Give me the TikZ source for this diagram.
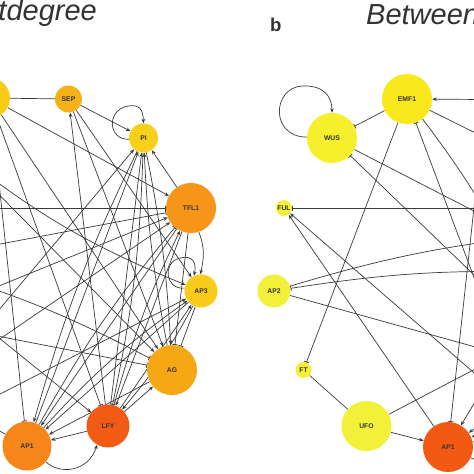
\documentclass[tikz,border=0pt]{standalone}
\usepackage{fontspec}
\setmainfont{Liberation Sans}
\usetikzlibrary{arrows.meta}
\definecolor{ecol}{HTML}{3A3A3A}
\definecolor{tcol}{HTML}{333333}
\definecolor{cLone}{HTML}{F8CC16}
\definecolor{cSEP}{HTML}{F4B118}
\definecolor{cPI}{HTML}{F9D019}
\definecolor{cTFL}{HTML}{F7951A}
\definecolor{cAPthree}{HTML}{F9CB1B}
\definecolor{cAG}{HTML}{F6A714}
\definecolor{cLFY}{HTML}{F25B14}
\definecolor{cAPa}{HTML}{F7861A}
\definecolor{cWUS}{HTML}{F6F02C}
\definecolor{cEMF}{HTML}{F8E81C}
\definecolor{cYel}{HTML}{F3F03A}
\definecolor{cAPb}{HTML}{F25A14}
\pgfdeclarelayer{bg}
\pgfsetlayers{bg,main}
\tikzset{
  nd/.style={circle, inner sep=0pt, minimum size=#1, text=tcol,
    font=\fontsize{6.8}{7}\selectfont\bfseries},
  e/.style={draw=ecol, line width=0.7pt},
  ar/.style={e, -{Stealth[length=4.5pt,width=3.6pt]}},
  tb/.style={e, -{Bar[width=5pt,line width=0.8pt]}},
  ttl/.style={text=tcol, font=\fontsize{29}{30}\selectfont\itshape, inner sep=0pt},
}
\begin{document}
\begin{tikzpicture}[x=1pt,y=-1pt]
\useasboundingbox (0,0) rectangle (474,474);

% ---------- titles ----------
\node[ttl, anchor=base east] (t1) at (97,20) {Outdegree};
\node[ttl, anchor=base west] (t2) at (366,24) {Betweenness};
\node[text=tcol, font=\fontsize{18.6}{19}\selectfont\bfseries, anchor=base west, inner sep=0pt] (lb) at (270,31.7) {b};

% ---------- left panel nodes ----------
\node[nd=40pt, fill=cLone] (L1) at (-10,98) {};
\node[nd=27pt, fill=cSEP] (SEP) at (68.5,99) {SEP};
\node[nd=29pt, fill=cPI] (PI) at (143.5,138) {PI};
\node[nd=50pt, fill=cTFL] (TFL1) at (191,208) {TFL1};
\node[nd=33pt, fill=cAPthree] (AP3) at (201,291) {AP3};
\node[nd=50pt, fill=cAG] (AG) at (172,370) {AG};
\node[nd=43pt, fill=cLFY] (LFY) at (108,426) {LFY};
\node[nd=49pt, fill=cAPa] (AP1L) at (27,446) {AP1};

% ---------- right panel nodes ----------
\node[nd=50pt, fill=cWUS] (WUS) at (332,138) {WUS};
\node[nd=50pt, fill=cEMF] (EMF1) at (407,99) {EMF1};
\node[nd=16pt, fill=cYel] (FUL) at (284,208) {FUL};
\node[nd=33pt, fill=cYel] (AP2) at (274,291) {AP2};
\node[nd=16pt, fill=cYel] (FT) at (303.5,370) {FT};
\node[nd=50pt, fill=cYel] (UFO) at (366.5,426) {UFO};
\node[nd=50pt, fill=cAPb] (AP1R) at (448,447) {AP1};

% off-screen ends
\coordinate (oA) at (-45,150);
\coordinate (oB) at (-80,208);
\coordinate (oC) at (-95,262);
\coordinate (oD) at (-85,320);
\coordinate (oE) at (-60,380);
\coordinate (oF) at (-35,412);
\coordinate (rC) at (540,330);
\coordinate (rD) at (520,400);
\coordinate (rE) at (560,100);
\coordinate (rF) at (540,165);
\coordinate (rG) at (500,300);
\coordinate (rH) at (540,245);
\coordinate (rI) at (540,208);
\coordinate (rJ) at (540,430);
\coordinate (rK) at (540,235);
\coordinate (rL) at (540,272);
\coordinate (rM) at (540,365);
\coordinate (rN) at (540,335);
\coordinate (rO) at (490,60);
\coordinate (rP) at (560,370);
\coordinate (rQ) at (560,400);
\coordinate (rR) at (560,425);
\coordinate (rS) at (530,310);
\coordinate (rT) at (560,500);

\begin{pgfonlayer}{bg}
\fill[white] (0,0) rectangle (474,474);
\clip (0,0) rectangle (474,474);
% ----- left panel edges -----
\draw[e]  (L1) -- (SEP);
\draw[ar] (L1) -- (TFL1);
\draw[tb] (L1) -- (AP1L);
\draw[tb] (L1) -- (LFY);
\draw[ar] (L1) -- (AG);
\draw[ar] (SEP) -- (PI);
\draw[ar] (SEP) -- (AG);
\draw[ar] (SEP) -- (AP3);
\draw[ar] (LFY) -- (SEP);
\draw[ar] (AP1L) -- (PI);
\draw[ar] (LFY) -- (PI);
\draw[ar] (AG) to[bend left=4] (PI);
\draw[ar] (PI) to[bend left=4] (AG);
\draw[ar] (TFL1) -- (PI);
\draw[ar] (PI.185) .. controls (108,140) and (106,110) .. (128,106)
          .. controls (140,104) and (143,110) .. (PI.north);
\draw[ar] (TFL1.-72) .. controls (205,248) and (204,258) .. (AP3.92);
\draw[ar] (AP3.170) .. controls (165,290) and (162,262) .. (180,258)
          .. controls (192,255) and (197,262) .. (AP3.115);
\draw[ar] (TFL1) -- (AP1L);
\draw[tb] (AP1L) to[bend left=5] (TFL1);
\draw[ar] (TFL1) -- (LFY);
\draw[ar] (LFY) to[bend left=5] (TFL1);
\draw[ar] (LFY) -- (AG);
\draw[ar] (LFY) -- (AP1L);
\draw[ar] (AP1L.-40) .. controls (60,475) and (88,472) .. (LFY.-120);
\draw[ar] (AG) -- (AP1L);
\draw[ar] (AP3) -- (AP1L);
\draw[ar] (AP1L) to[bend left=6] (AP3);
\draw[ar] (LFY) -- (AP3);
\draw[ar] (AP3) to[bend left=6] (LFY);
\draw[tb] (AP3) -- (AG);
\draw[tb] (TFL1) -- (AG);
\draw[ar] (PI) to[bend right=5] (AP1L);
\draw[tb] (PI) to[bend left=5] (LFY);
\draw[tb] (oB) -- (TFL1);
\draw[tb] (oC) -- (TFL1);
\draw[ar] (oD) -- (TFL1);
\draw[ar] (oA) to[bend right=8] (AP3);
\draw[ar] (oA) -- (AG);
\draw[ar] (oC) -- (LFY);
\draw[tb] (oD) -- (AG);
\draw[tb] (oC) to[bend left=6] (AG);
\draw[ar] (oE) -- (PI);
\draw[ar] (oE) -- (TFL1);
\draw[ar] (oF) -- (AP3);
\draw[e]  (oF) -- (AP1L);
% ----- right panel edges -----
\draw[ar] (WUS.178) .. controls (270,137) and (272,88) .. (302,86)
          .. controls (322,85) and (332,95) .. (WUS.north);
\draw[tb] (EMF1) -- (WUS);
\draw[tb] (EMF1) -- (FT);
\draw[tb] (rD) -- (EMF1);
\draw[e]  (EMF1) to[bend left=8] (rC);
\draw[ar] (rE) -- (EMF1);
\draw[e]  (EMF1) -- (rF);
\draw[tb] (rG) -- (WUS);
\draw[e]  (WUS) -- (rH);
\draw[tb] (rI) -- (FUL);
\draw[ar] (AP1R) -- (FUL);
\draw[ar] (rJ) -- (FUL);
\draw[e]  (AP2) to[bend left=5] (rK);
\draw[tb] (rL) to[bend right=5] (AP2);
\draw[e]  (AP2) -- (rM);
\draw[e]  (FT) -- (UFO);
\draw[ar] (UFO) -- (AP1R);
\draw[e]  (UFO) -- (rN);
\draw[tb] (rO) -- (AP1R);
\draw[ar] (rP) -- (AP1R);
\draw[ar] (rQ) -- (AP1R);
\draw[ar] (rR) -- (AP1R);
\draw[ar] (rS) -- (AP1R);
\draw[e]  (AP1R) -- (rT);
\end{pgfonlayer}
\end{tikzpicture}
\end{document}
